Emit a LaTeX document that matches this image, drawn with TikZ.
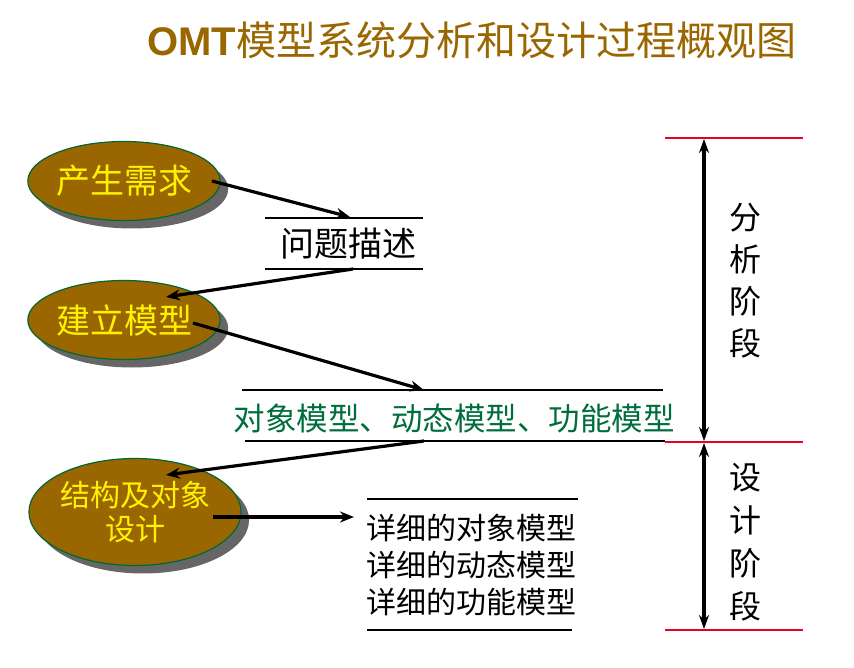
\documentclass[tikz,border=0pt]{standalone}
\usepackage{fontspec}
\setmainfont{Noto Sans CJK SC}
\newfontfamily\latinb{Liberation Sans}
\usetikzlibrary{shapes.geometric,shadows,arrows.meta}
\definecolor{brn}{RGB}{153,102,0}
\definecolor{bgreen}{RGB}{0,102,51}
\definecolor{tgreen}{RGB}{0,110,60}
\definecolor{lred}{RGB}{230,0,40}
\definecolor{shd}{RGB}{102,102,102}
\begin{document}
\begin{tikzpicture}[x=1pt,y=-1pt,
  oval/.style={ellipse, draw=bgreen, line width=1.2pt, fill=brn, text=yellow,
    minimum width=182pt, minimum height=79pt, inner sep=0pt, align=center,
    drop shadow={shadow xshift=8pt, shadow yshift=-8pt, fill=shd, opacity=1}},
  plain/.style={inner sep=0pt, align=center},
  rule/.style={line width=2.4pt, black},
  redrule/.style={line width=2.2pt, lred},
  arr/.style={line width=3.2pt, -{Stealth[length=14pt,width=11pt]}},
  darr/.style={line width=3.6pt, {Stealth[length=14pt,width=10pt]}-{Stealth[length=14pt,width=10pt]}}
]
\useasboundingbox (0,0) rectangle (854,668);

% title
\node[plain, anchor=west, text=brn, font=\fontsize{40}{44}\selectfont] (title) at (147,40)
  {{\latinb\bfseries OMT}模型系统分析和设计过程概观图};

% ovals
\node[oval, font=\fontsize{34}{38}\selectfont] (e1) at (124,181) {产生需求};
\node[oval, font=\fontsize{34}{38}\selectfont] (e2) at (124,320) {建立模型};
\node[oval, minimum height=107pt, font=\fontsize{30}{34}\selectfont] (e3) at (135,512)
  {结构及对象\\设计};

% problem description
\node[plain, font=\fontsize{34}{38}\selectfont] (wt) at (348,244) {问题描述};
\coordinate (wtl) at (265,218); \coordinate (wtr) at (423,218);
\coordinate (wbl) at (265,269); \coordinate (wbr) at (423,269);
\draw[rule] (wtl) -- (wtr);
\draw[rule] (wbl) -- (wbr);

% three models
\node[plain, text=tgreen, font=\fontsize{31.5}{36}\selectfont] (mt) at (454,418)
  {对象模型、动态模型、功能模型};
\coordinate (mtl) at (242,390); \coordinate (mtr) at (663,390);
\coordinate (mbl) at (245,441); \coordinate (mbr) at (665,441);
\draw[rule] (mtl) -- (mtr);
\draw[rule] (mbl) -- (mbr);

% detailed models
\node[plain, anchor=west, font=\fontsize{30}{37}\selectfont] (dt) at (366,565)
  {详细的对象模型\\详细的动态模型\\详细的功能模型};
\coordinate (dtl) at (367,499); \coordinate (dtr) at (578,499);
\coordinate (dbl) at (367,630); \coordinate (dbr) at (572,630);
\draw[rule] (dtl) -- (dtr);
\draw[rule] (dbl) -- (dbr);

% arrows
\coordinate (a1s) at (212,181); \coordinate (a1e) at (350,217);
\coordinate (a2s) at (353,269); \coordinate (a2e) at (166,297);
\coordinate (a3s) at (193,323); \coordinate (a3e) at (424,390);
\coordinate (a4s) at (424,441); \coordinate (a4e) at (166,475);
\coordinate (a5s) at (213,517); \coordinate (a5e) at (354,517);
\draw[arr] (a1s) -- (a1e);
\draw[arr] (a2s) -- (a2e);
\draw[arr] (a3s) -- (a3e);
\draw[arr] (a4s) -- (a4e);
\draw[arr] (a5s) -- (a5e);

% phases
\coordinate (r1l) at (665,138); \coordinate (r1r) at (803,138);
\coordinate (r2l) at (665,442); \coordinate (r2r) at (803,442);
\coordinate (r3l) at (665,630); \coordinate (r3r) at (803,630);
\draw[redrule] (r1l) -- (r1r);
\draw[redrule] (r2l) -- (r2r);
\draw[redrule] (r3l) -- (r3r);
\coordinate (p1t) at (704,139); \coordinate (p1b) at (704,441);
\coordinate (p2t) at (704,443); \coordinate (p2b) at (704,629);
\draw[darr] (p1t) -- (p1b);
\draw[darr] (p2t) -- (p2b);
\node[plain, font=\fontsize{32}{42}\selectfont] (ph1) at (745,281) {分\\析\\阶\\段};
\node[plain, font=\fontsize{32}{43}\selectfont] (ph2) at (745,542) {设\\计\\阶\\段};
\end{tikzpicture}
\end{document}
